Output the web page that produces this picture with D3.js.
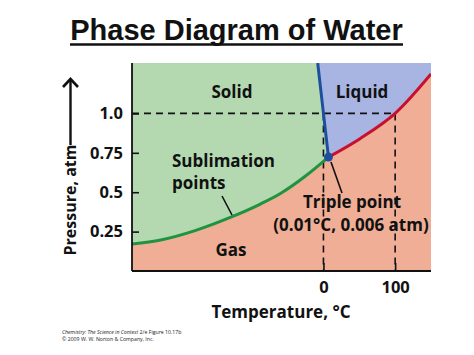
<!DOCTYPE html>
<html><head><meta charset="utf-8">
<script src="https://cdn.jsdelivr.net/npm/d3@7"></script>
<style>body{margin:0;background:#fff}svg{display:block}</style>
</head><body>
<svg id="c" width="474" height="355"></svg>
<script>
// ---- data (stylised, not to scale) ----
const yTicks = [0.25, 0.5, 0.75, 1.0];
const yTickLabels = ["0.25", "0.5", "0.75", "1.0"];
const xTicks = [0, 100];
const xTickLabels = ["0", "100"];
const sublimationT = [-267, -227, -178, -130, -88, -60, -25, 7];
const sublimationP = [0.171, 0.197, 0.258, 0.340, 0.425, 0.492, 0.603, 0.723];
const meltingT = [7, 0, -8];
const meltingP = [0.723, 1.0, 1.32];
const boilingT = [7, 51, 100, 150];
const boilingP = [0.723, 0.84, 1.0, 1.25];
const triplePoint = [7, 0.723];
const regionLabels = ["Solid", "Liquid", "Gas"];

const svg = d3.select("#c");
const L = 132, R = 431, T = 63, B = 271;
const x = d3.scaleLinear().domain([-267, 150]).range([L, R]);
const y = d3.scaleLinear().domain([0, 1.32]).range([B, T]);
const xMin = -267, xMax = 150, yMax = 1.32;

const zip = (a, b) => a.map((v, i) => [v, b[i]]);
const subl = zip(sublimationT, sublimationP);
const melt = zip(meltingT, meltingP);
const boil = zip(boilingT, boilingP);

const curve = d3.line().x(d => x(d[0])).y(d => y(d[1])).curve(d3.curveMonotoneX);
const straight = d3.line().x(d => x(d[0])).y(d => y(d[1]));

svg.append("clipPath").attr("id", "clip").append("rect")
  .attr("x", L).attr("y", T).attr("width", R - L).attr("height", B - T);
const g = svg.append("g").attr("clip-path", "url(#clip)");

// gas background
g.append("rect").attr("x", L).attr("y", T).attr("width", R - L).attr("height", B - T).attr("fill", "#efae95");
// solid region
const solidPath = "M" + x(xMin) + "," + y(yMax) + curve(subl).replace(/^M/, "L") +
  melt.slice(1).map(d => "L" + x(d[0]) + "," + y(d[1])).join("") + "Z";
g.append("path").attr("d", solidPath).attr("fill", "#b4d9b1");
// liquid region
const liquidPath = curve(boil) + "L" + x(xMax) + "," + y(yMax) +
  melt.slice().reverse().map(d => "L" + x(d[0]) + "," + y(d[1])).join("") + "Z";
g.append("path").attr("d", liquidPath).attr("fill", "#a8b4e2");

// dashed guides
const dash = "7,5";
g.append("line").attr("x1", x(xMin)).attr("x2", x(100)).attr("y1", y(1)).attr("y2", y(1))
  .attr("stroke", "#111").attr("stroke-width", 1.6).attr("stroke-dasharray", dash);
xTicks.forEach(v => {
  g.append("line").attr("x1", x(v)).attr("x2", x(v)).attr("y1", y(1)).attr("y2", y(0))
    .attr("stroke", "#111").attr("stroke-width", 1.6).attr("stroke-dasharray", dash);
});

// phase boundary curves
g.append("path").attr("d", curve(subl)).attr("fill", "none").attr("stroke", "#1f9340").attr("stroke-width", 3);
g.append("path").attr("d", curve(boil)).attr("fill", "none").attr("stroke", "#c8102e").attr("stroke-width", 3);
g.append("path").attr("d", straight(melt)).attr("fill", "none").attr("stroke", "#1e4f9e").attr("stroke-width", 3);
g.append("circle").attr("cx", x(triplePoint[0])).attr("cy", y(triplePoint[1])).attr("r", 4.5).attr("fill", "#1e4f9e");

// axes
const font = "'Open Sans', 'Noto Sans', sans-serif";
const yAxis = d3.axisLeft(y).tickValues(yTicks).tickFormat((d, i) => yTickLabels[i]).tickSizeInner(-7).tickSizeOuter(0).tickPadding(9);
const xAxis = d3.axisBottom(x).tickValues(xTicks).tickFormat((d, i) => xTickLabels[i]).tickSizeInner(-8).tickSizeOuter(0).tickPadding(10);
const ya = svg.append("g").attr("transform", `translate(${L},0)`).call(yAxis);
const xa = svg.append("g").attr("transform", `translate(0,${B})`).call(xAxis);
[ya, xa].forEach(a => {
  a.select(".domain").attr("stroke", "#111").attr("stroke-width", 1.8);
  a.selectAll(".tick line").attr("stroke", "#111").attr("stroke-width", 1.6);
  a.selectAll(".tick text").attr("fill", "#111").attr("font-family", font).attr("font-weight", 700).attr("font-size", 16.5);
});
ya.select(".domain").attr("d", `M0,${T}V${B}`);
xa.select(".domain").attr("d", `M${L},0H${R}`);

// title
svg.append("text").attr("x", 236.5).attr("y", 40).attr("text-anchor", "middle")
  .attr("font-family", "'Liberation Sans', Arial, sans-serif").attr("font-weight", 700).attr("font-size", 29)
  .attr("fill", "#111").text("Phase Diagram of Water");
svg.append("line").attr("x1", 70).attr("x2", 403).attr("y1", 44.5).attr("y2", 44.5).attr("stroke", "#111").attr("stroke-width", 2.4);

// axis titles
svg.append("text").attr("x", 281).attr("y", 318).attr("text-anchor", "middle")
  .attr("font-family", font).attr("font-weight", 700).attr("font-size", 17).attr("fill", "#111").text("Temperature, °C");
svg.append("text").attr("transform", "translate(76,200) rotate(-90)").attr("text-anchor", "middle")
  .attr("font-family", font).attr("font-weight", 700).attr("font-size", 16).attr("fill", "#111").text("Pressure, atm");
svg.append("line").attr("x1", 70.5).attr("x2", 70.5).attr("y1", 145).attr("y2", 80).attr("stroke", "#111").attr("stroke-width", 2.4);
svg.append("path").attr("d", "M63,87 L70.5,79 L78,87").attr("fill", "none").attr("stroke", "#111").attr("stroke-width", 2.6);

// region labels
const lab = (t, xx, yy, anchor = "middle") => svg.append("text").attr("x", xx).attr("y", yy).attr("text-anchor", anchor)
  .attr("font-family", font).attr("font-weight", 700).attr("font-size", 17).attr("fill", "#111").text(t);
lab(regionLabels[0], 232, 98);
lab(regionLabels[1], 362, 98);
lab(regionLabels[2], 231, 256);
lab("Sublimation", 172, 167, "start");
lab("points", 172, 189, "start");
lab("Triple point", 352, 208);
lab("(0.01°C, 0.006 atm)", 351, 231);

// leader lines
svg.append("line").attr("x1", 222).attr("y1", 196).attr("x2", 232).attr("y2", 215).attr("stroke", "#111").attr("stroke-width", 1.6);
svg.append("line").attr("x1", 331).attr("y1", 162).attr("x2", 342).attr("y2", 193).attr("stroke", "#111").attr("stroke-width", 1.6);

// footer
const foot = svg.append("text").attr("x", 62).attr("y", 334).attr("font-family", font).attr("font-size", 5.2).attr("fill", "#222");
foot.append("tspan").attr("font-style", "italic").text("Chemistry: The Science in Context");
foot.append("tspan").text("  2/e   Figure 10.17b");
svg.append("text").attr("x", 62).attr("y", 341).attr("font-family", font).attr("font-size", 5.2).attr("fill", "#222")
  .text("© 2009 W. W. Norton & Company, Inc.");
</script>
</body></html>
